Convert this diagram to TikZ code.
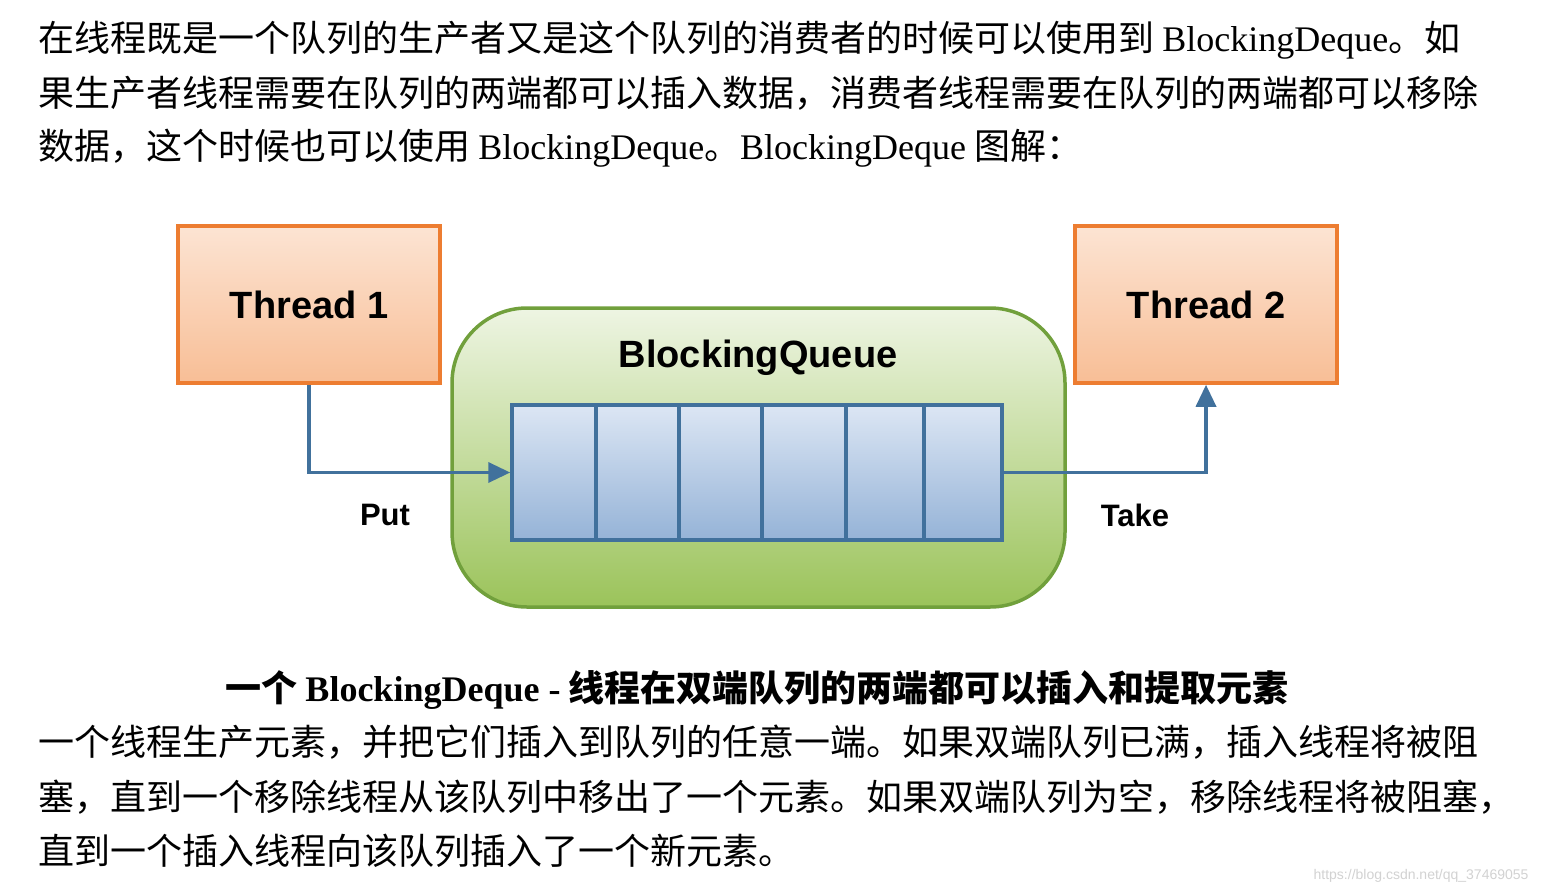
\documentclass[tikz,border=0pt]{standalone}
\usepackage{fontspec}
\setmainfont{Noto Sans CJK SC}
\newfontfamily\lat{Liberation Serif}
\newfontfamily\sans{Liberation Sans}
\definecolor{stb}{HTML}{41719C}
\definecolor{cellt}{HTML}{DCE6F4}
\definecolor{cellb}{HTML}{95B3D7}
\definecolor{grd}{HTML}{71A03C}
\definecolor{grt}{HTML}{EEF5E3}
\definecolor{grb}{HTML}{9BC35A}
\definecolor{ord}{HTML}{ED7D31}
\definecolor{ort}{HTML}{FCE4D3}
\definecolor{orb}{HTML}{F8BE96}
\usetikzlibrary{arrows.meta}
\begin{document}
\begin{tikzpicture}[x=1pt,y=-1pt,
 txt/.style={anchor=west,inner sep=0pt,font=\fontsize{36}{40}\selectfont},
 thread/.style={draw=ord,line width=3.5pt,top color=ort,bottom color=orb,minimum width=262pt,minimum height=157pt,font=\sans\bfseries\fontsize{38}{42}\selectfont,inner sep=0pt},
 cell/.style={draw=stb,line width=3.5pt,top color=cellt,bottom color=cellb,minimum height=135pt,inner sep=0pt},
 lab/.style={font=\sans\bfseries\fontsize{31}{34}\selectfont},
 arr/.style={draw=stb,line width=3.5pt,-{Triangle[length=22pt,width=20pt]}}]
\useasboundingbox (0,0) rectangle (1541,894);
\fill[white] (0,0) rectangle (1541,894);
\node[txt] (l1) at (38,40) {在线程既是一个队列的生产者又是这个队列的消费者的时候可以使用到 {\lat BlockingDeque}。如};
\node[txt] (l2) at (38,93) {果生产者线程需要在队列的两端都可以插入数据，消费者线程需要在队列的两端都可以移除};
\node[txt] (l3) at (38,148) {数据，这个时候也可以使用 {\lat BlockingDeque}。{\lat BlockingDeque} 图解：};
\draw[draw=grd,line width=3.5pt,top color=grt,bottom color=grb,rounded corners=75pt] (452,308) rectangle (1065,607);
\node[font=\sans\bfseries\fontsize{38}{42}\selectfont] (bq) at (758,358) {BlockingQueue};
\node[thread] (t1) at (309,304.5) {Thread 1};
\node[thread] (t2) at (1206,304.5) {Thread 2};
\node[cell,minimum width=84pt] (c1) at (554,472.5) {};
\node[cell,minimum width=83pt] (c2) at (637.5,472.5) {};
\node[cell,minimum width=83pt] (c3) at (720.5,472.5) {};
\node[cell,minimum width=84pt] (c4) at (804,472.5) {};
\node[cell,minimum width=78pt] (c5) at (885,472.5) {};
\node[cell,minimum width=78pt] (c6) at (963,472.5) {};
\draw[arr] (t1.south) |- (c1.west);
\draw[arr] (c6.east) -| (t2.south);
\node[lab] (put) at (385,515) {Put};
\node[lab] (take) at (1135,515) {Take};
\node[font=\bfseries\fontsize{36}{40}\selectfont] (cap) at (757,690) {一个 {\lat\bfseries BlockingDeque -} 线程在双端队列的两端都可以插入和提取元素};
\node[txt] (b1) at (38,742) {一个线程生产元素，并把它们插入到队列的任意一端。如果双端队列已满，插入线程将被阻};
\node[txt] (b2) at (38,797) {塞，直到一个移除线程从该队列中移出了一个元素。如果双端队列为空，移除线程将被阻塞，};
\node[txt] (b3) at (38,851) {直到一个插入线程向该队列插入了一个新元素。};
\node[font=\sans\fontsize{14}{16}\selectfont,text=gray!35,anchor=east] (wm) at (1532,876) {https://blog.csdn.net/qq\_37469055};
\end{tikzpicture}
\end{document}
